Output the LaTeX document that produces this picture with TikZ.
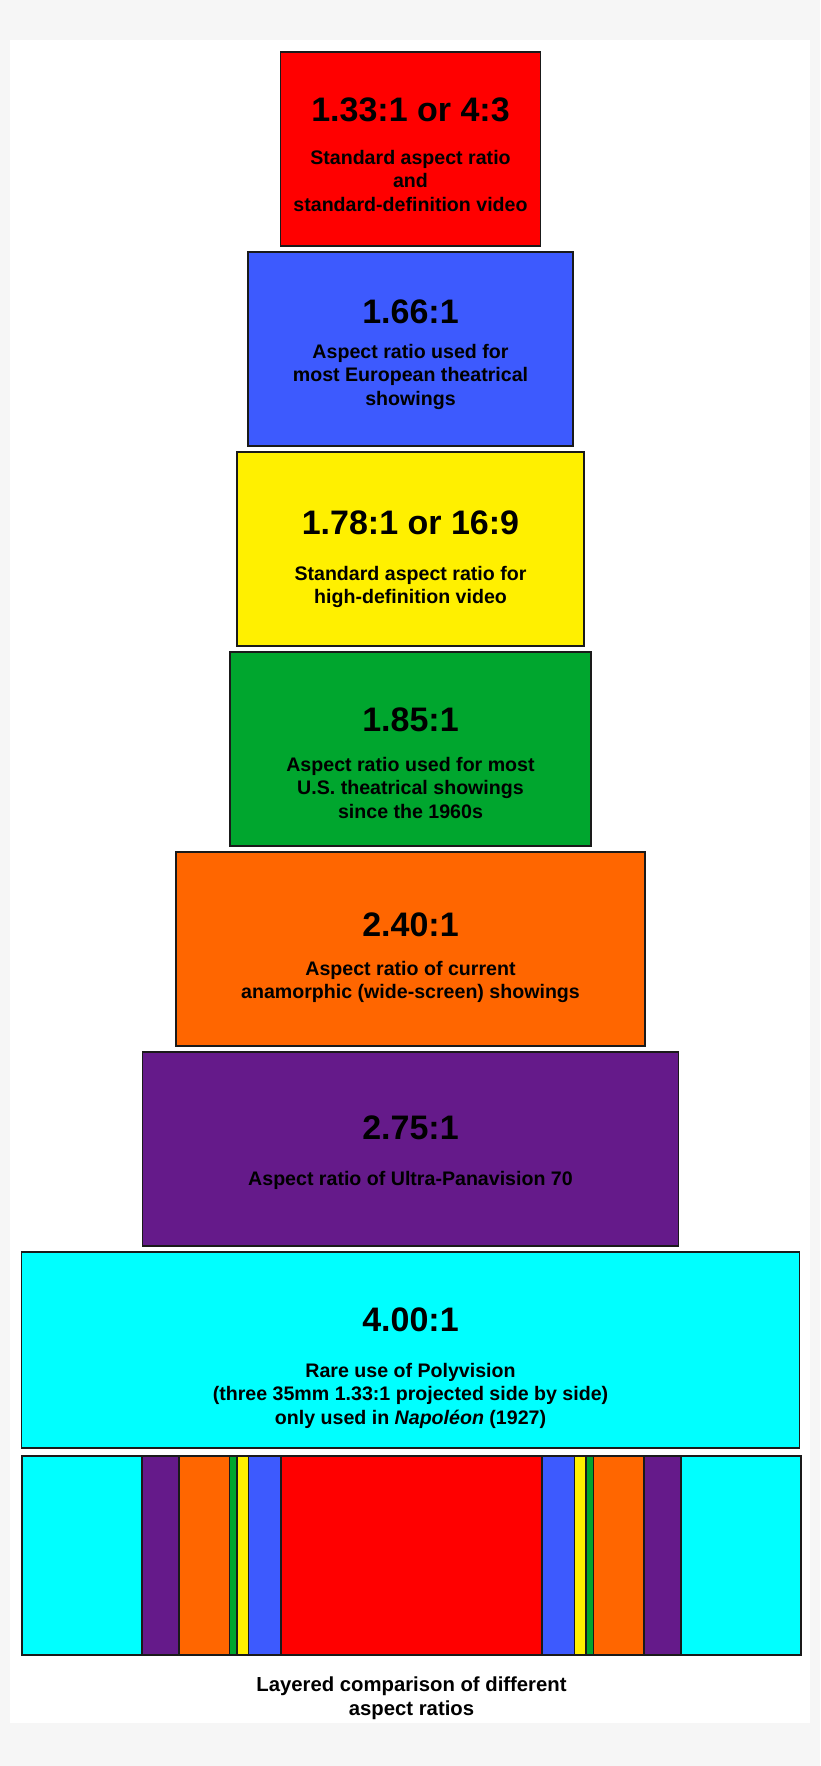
\documentclass[tikz,border=0pt]{standalone}
\usepackage{fontspec}
\setmainfont{Liberation Sans}
\usetikzlibrary{positioning}

\definecolor{pagegray}{HTML}{F6F6F6}
\definecolor{edgegray}{HTML}{1A1A1A}
\definecolor{ratiored}{HTML}{FF0000}
\definecolor{ratioblue}{HTML}{3D5AFE}
\definecolor{ratioyellow}{HTML}{FFF000}
\definecolor{ratiogreen}{HTML}{00A62E}
\definecolor{ratioorange}{HTML}{FF6600}
\definecolor{ratiopurple}{HTML}{651A8A}
\definecolor{ratiocyan}{HTML}{00FFFF}

\tikzset{
  ratiobox/.style={rectangle, draw=edgegray, line width=1.8pt, outer sep=0pt, inner sep=0pt, minimum height=194pt},
  ratiotitle/.style={anchor=base, inner sep=0pt, font=\fontsize{34}{40}\selectfont\bfseries},
  ratiotext/.style={anchor=north, inner sep=0pt, align=center, font=\fontsize{19.6}{23.5}\selectfont\bfseries},
}

\begin{document}
\begin{tikzpicture}[x=1pt, y=1pt]
    \fill[pagegray] (0,0) rectangle (820,-1766);
    \fill[white] (10,-40) rectangle (810,-1723);
    \useasboundingbox (0,0) rectangle (820,-1766);

    \node[ratiobox, fill=ratiored, minimum width=260pt] (r133) at (410.5,-149) {};
    \node[ratiobox, fill=ratioblue, minimum width=325pt, below=6pt of r133] (r166) {};
    \node[ratiobox, fill=ratioyellow, minimum width=347pt, below=6pt of r166] (r178) {};
    \node[ratiobox, fill=ratiogreen, minimum width=361pt, below=6pt of r178] (r185) {};
    \node[ratiobox, fill=ratioorange, minimum width=469pt, below=6pt of r185] (r240) {};
    \node[ratiobox, fill=ratiopurple, minimum width=536pt, below=6pt of r240] (r275) {};
    \node[ratiobox, fill=ratiocyan, minimum width=778pt, minimum height=196pt, below=6pt of r275] (r400) {};
    \node[ratiobox, fill=ratiocyan, minimum width=779pt, minimum height=199pt, below=8pt of r400, xshift=1pt] (layers) {};

    % layered comparison
    \foreach \w/\c in {539/ratiopurple, 465/ratioorange, 364/ratiogreen, 349/ratioyellow, 326/ratioblue, 261/ratiored}
        \draw[draw=edgegray, line width=1.8pt, fill=\c] ([xshift=-\w*0.5pt]layers.north) rectangle ([xshift=\w*0.5pt]layers.south);

    \node[ratiotitle] (t133) at ([yshift=-70pt]r133.north) {1.33:1 or 4:3};
    \node[ratiotext] (d133) at ([yshift=-97.7pt]r133.north) {Standard aspect ratio\\and\\standard-definition video};
    \node[ratiotitle] (t166) at ([yshift=-71pt]r166.north) {1.66:1};
    \node[ratiotext] (d166) at ([yshift=-91.7pt]r166.north) {Aspect ratio used for\\most European theatrical\\showings};
    \node[ratiotitle] (t178) at ([yshift=-82.6pt]r178.north) {1.78:1 or 16:9};
    \node[ratiotext] (d178) at ([yshift=-113.7pt]r178.north) {Standard aspect ratio for\\high-definition video};
    \node[ratiotitle] (t185) at ([yshift=-79.3pt]r185.north) {1.85:1};
    \node[ratiotext] (d185) at ([yshift=-104.7pt]r185.north) {Aspect ratio used for most\\U.S. theatrical showings\\since the 1960s};
    \node[ratiotitle] (t240) at ([yshift=-84.3pt]r240.north) {2.40:1};
    \node[ratiotext] (d240) at ([yshift=-108.7pt]r240.north) {Aspect ratio of current\\anamorphic (wide-screen) showings};
    \node[ratiotitle] (t275) at ([yshift=-87.7pt]r275.north) {2.75:1};
    \node[ratiotext] (d275) at ([yshift=-118.7pt]r275.north) {Aspect ratio of Ultra-Panavision 70};
    \node[ratiotitle] (t400) at ([yshift=-79pt]r400.north) {4.00:1};
    \node[ratiotext] (d400) at ([yshift=-110.7pt]r400.north) {Rare use of Polyvision\\(three 35mm 1.33:1 projected side by side)\\only used in \textit{Napoléon} (1927)};

    \node[ratiotext, font=\fontsize{20.3}{24}\selectfont\bfseries, below=21.5pt of layers] (caption) {Layered comparison of different\\aspect ratios};
\end{tikzpicture}
\end{document}
